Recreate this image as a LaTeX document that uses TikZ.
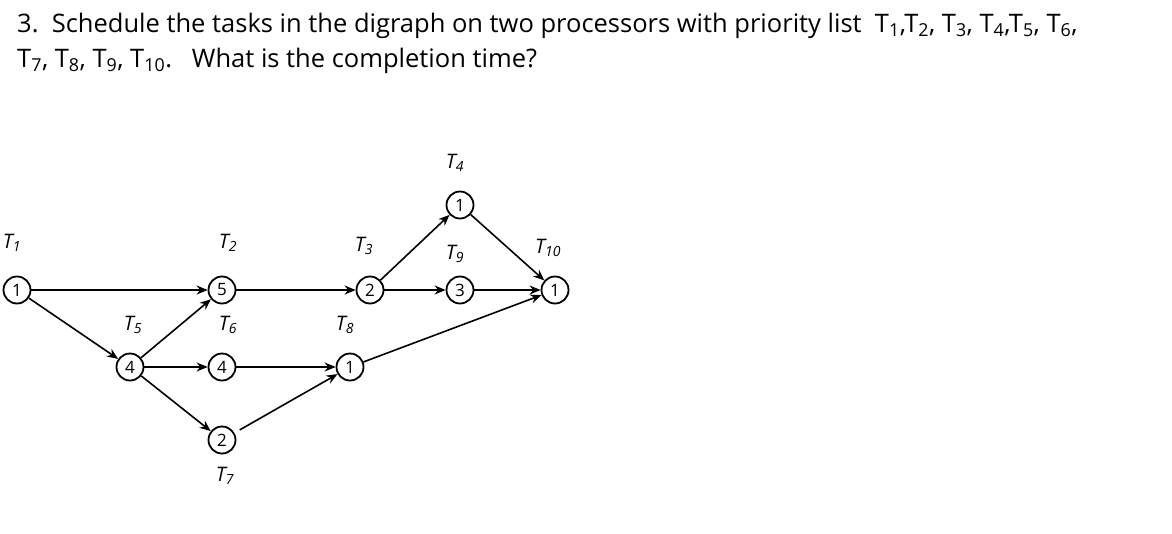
\documentclass[tikz,border=0pt]{standalone}
\usepackage{fontspec}
\setmainfont{Open Sans}
\usetikzlibrary{arrows.meta}
\begin{document}
\begin{tikzpicture}[x=1pt,y=-1pt,
  task/.style={circle,draw,line width=1.8pt,minimum size=27pt,inner sep=0pt,font=\fontsize{17}{17}\selectfont},
  lab/.style={font=\fontsize{20}{20}\itshape\selectfont},
  edge/.style={line width=1.6pt,-{Stealth[length=11pt,width=9pt]}}]
\useasboundingbox (0,0) rectangle (1172,533);
\node[anchor=west,font=\fontsize{25.5}{25.5}\selectfont,inner sep=0pt] (title1) at (17,26) {3.\ \ Schedule the tasks in the digraph on two processors with priority list\ \ T\textsubscript{1},T\textsubscript{2}, T\textsubscript{3}, T\textsubscript{4},T\textsubscript{5}, T\textsubscript{6},};
\node[anchor=west,font=\fontsize{25.5}{25.5}\selectfont,inner sep=0pt] (title2) at (17,61) {T\textsubscript{7}, T\textsubscript{8}, T\textsubscript{9}, T\textsubscript{10}.\ \ \ What is the completion time?};
\node[task] (t1) at (17,290) {1};
\node[task] (t2) at (222,290) {5};
\node[task] (t3) at (370,290) {2};
\node[task] (t4) at (460,205) {1};
\node[task] (t9) at (460,290) {3};
\node[task] (t10) at (555,290) {1};
\node[task] (t5) at (130,367) {4};
\node[task] (t6) at (222,367) {4};
\node[task] (t8) at (350,367) {1};
\node[task] (t7) at (222,440) {2};
\node[lab] (l1) at (12,243) {T\textsubscript{1}};
\node[lab] (l2) at (228,243) {T\textsubscript{2}};
\node[lab] (l3) at (364,246) {T\textsubscript{3}};
\node[lab] (l4) at (455,163) {T\textsubscript{4}};
\node[lab] (l9) at (455,254) {T\textsubscript{9}};
\node[lab] (l10) at (548,248) {T\textsubscript{10}};
\node[lab] (l5) at (133,325) {T\textsubscript{5}};
\node[lab] (l6) at (228,325) {T\textsubscript{6}};
\node[lab] (l8) at (345,325) {T\textsubscript{8}};
\node[lab] (l7) at (225,476) {T\textsubscript{7}};
\draw[edge] (t1) -- (t2);
\draw[edge] (t1) -- (t5);
\draw[edge] (t5) -- (t2);
\draw[edge] (t5) -- (t6);
\draw[edge] (t5) -- (t7);
\draw[edge] (t2) -- (t3);
\draw[edge] (t6) -- (t8);
\draw[edge,shorten <=6pt] (t7) -- (t8);
\draw[edge] (t3) -- (t4);
\draw[edge] (t3) -- (t9);
\draw[edge] (t4) -- (t10);
\draw[edge] (t9) -- (t10);
\draw[edge] (t8) -- (t10);
\end{tikzpicture}
\end{document}
